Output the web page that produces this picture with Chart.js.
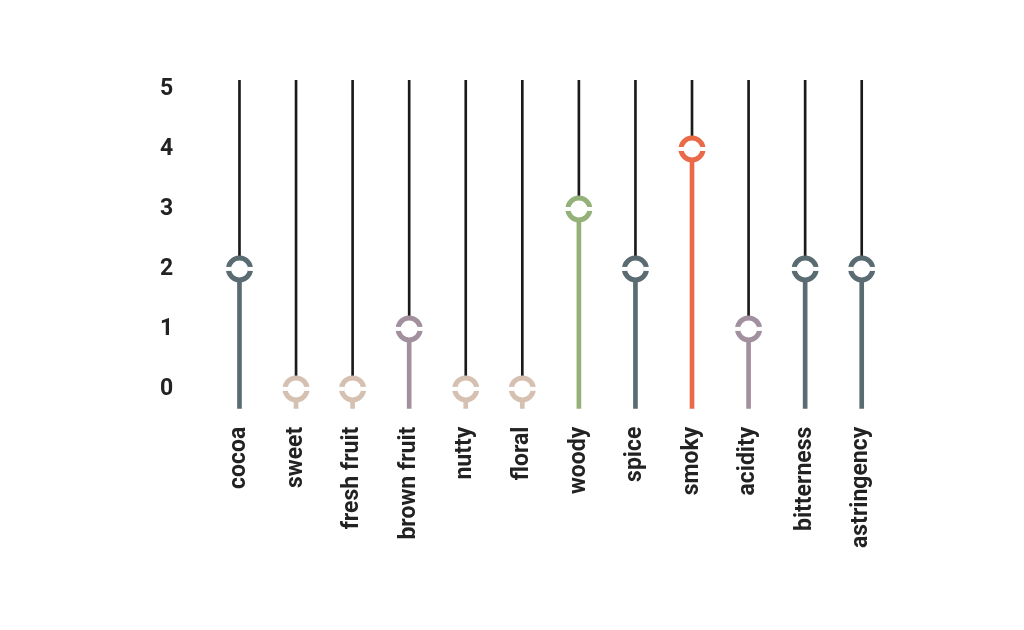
<!DOCTYPE html>
<html><head><meta charset="utf-8">
<script src="https://cdn.jsdelivr.net/npm/chart.js@4"></script>
<style>html,body{margin:0;background:#fff}#w{width:1024px;height:630px}</style>
</head><body><div id="w"><canvas id="c"></canvas></div>
<script>
const categories=["cocoa","sweet","fresh fruit","brown fruit","nutty","floral","woody","spice","smoky","acidity","bitterness","astringency"];
const values=[2,0,0,1,0,0,3,2,4,1,2,2];
const colors=["#5b6b72","#d5c0b2","#d5c0b2","#a3909f","#d5c0b2","#d5c0b2","#93b178","#5b6b72","#e86a48","#a3909f","#5b6b72","#5b6b72"];
const yTicks=[0,1,2,3,4,5];
const YMIN=-0.33, YMAX=5.15;
const gapPlugin={id:'gap',afterDatasetsDraw(ch){
  const m=ch.getDatasetMeta(2),ctx=ch.ctx;ctx.save();ctx.fillStyle='#fff';
  m.data.forEach(p=>{ctx.fillRect(p.x-16,p.y-2,8,4);ctx.fillRect(p.x+8,p.y-2,8,4);});
  ctx.restore();}};
const F={family:'Roboto',weight:'700',size:23};
new Chart(document.getElementById('c'),{
  data:{labels:categories,datasets:[
    {type:'bar',data:values.map(v=>[v,YMAX]),backgroundColor:'#1a1a1a',barThickness:2,grouped:false,order:3},
    {type:'bar',data:values.map(v=>[YMIN,v]),backgroundColor:colors,barThickness:4,grouped:false,order:2},
    {type:'line',data:values,showLine:false,pointRadius:11,pointHoverRadius:11,pointBorderWidth:5,pointBackgroundColor:'#fff',pointBorderColor:colors,order:1}
  ]},
  options:{responsive:true,maintainAspectRatio:false,animation:false,
    layout:{padding:{left:130,right:134,top:80,bottom:72}},
    plugins:{legend:{display:false},tooltip:{enabled:false}},
    scales:{
      x:{grid:{display:false},border:{display:false},
        ticks:{color:'#222',font:F,minRotation:90,maxRotation:90,padding:10}},
      y:{min:YMIN,max:YMAX,afterBuildTicks:a=>{a.ticks=yTicks.map(v=>({value:v}));},
        grid:{display:false},border:{display:false},
        ticks:{color:'#222',font:F,padding:30}}
    }},
  plugins:[gapPlugin]
});
</script></body></html>
